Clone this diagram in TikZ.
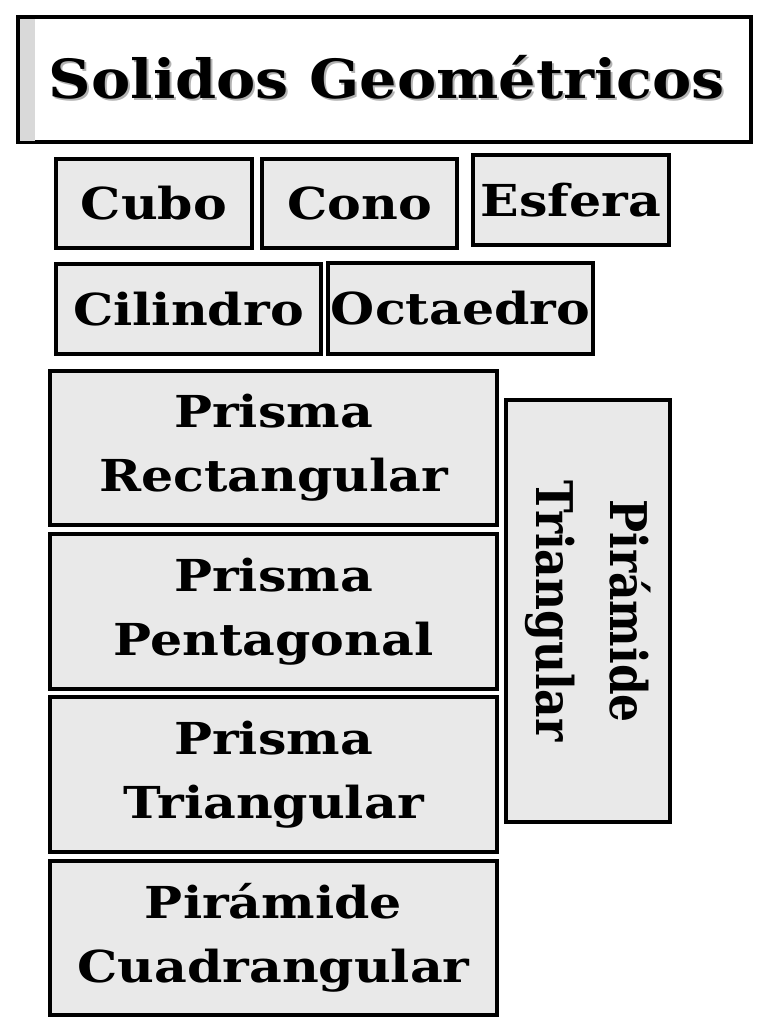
\documentclass[tikz,border=0pt]{standalone}
\usepackage{fontspec}
\setmainfont{DejaVu Serif}
\begin{document}
\begin{tikzpicture}[x=0.5pt,y=-0.5pt,
  box/.style={draw=black,line width=1.6pt,fill=gray!17,inner sep=0pt,align=center,font=\bfseries\fontsize{22}{32}\selectfont},
  lbl/.style={box,draw=none,fill=none,xscale=1.15}]
\useasboundingbox (0,0) rectangle (768,1024);
\fill[white] (0,0) rectangle (768,1024);
% title
\draw[line width=1.6pt,fill=white] (18,17) rectangle (751,142);
\fill[gray!30] (19.5,18.5) rectangle (35,140.5);
\node[font=\bfseries\fontsize{27}{30}\selectfont,text=gray!60,xscale=1.09] (tsh) at (389,79) {Solidos Geométricos};
\node[font=\bfseries\fontsize{27}{30}\selectfont,xscale=1.09] (title) at (387,77) {Solidos Geométricos};
\newcommand\bx[6]{\node[box,minimum width=(#3-#1)*0.5pt,minimum height=(#4-#2)*0.5pt,#6] (#5) at ({(#1+#3)/2},{(#2+#4)/2}) {};}
\bx{56}{159}{252}{248}{cubo}{}
\node[lbl] at (cubo) {Cubo};
\bx{262}{159}{457}{248}{cono}{}
\node[lbl] at (cono) {Cono};
\bx{473}{155}{669}{245}{esfera}{}
\node[lbl] at (esfera) {Esfera};
\bx{56}{264}{321}{354}{cil}{}
\node[lbl] at (cil) {Cilindro};
\bx{328}{263}{593}{354}{oct}{}
\node[lbl] at (oct) {Octaedro};
\bx{50}{371}{497}{525}{pr}{}
\node[lbl] at (pr) {Prisma\\Rectangular};
\bx{50}{534}{497}{689}{pp}{}
\node[lbl] at (pp) {Prisma\\Pentagonal};
\bx{50}{697}{497}{852}{pt}{}
\node[lbl] at (pt) {Prisma\\Triangular};
\bx{50}{861}{497}{1015}{pc}{}
\node[lbl] at (pc) {Pirámide\\Cuadrangular};
\bx{506}{400}{670}{822}{ptr}{}
\node[box,draw=none,fill=none,rotate=-90,yscale=1.15] at (ptr) {Pirámide\\Triangular};
\end{tikzpicture}
\end{document}
